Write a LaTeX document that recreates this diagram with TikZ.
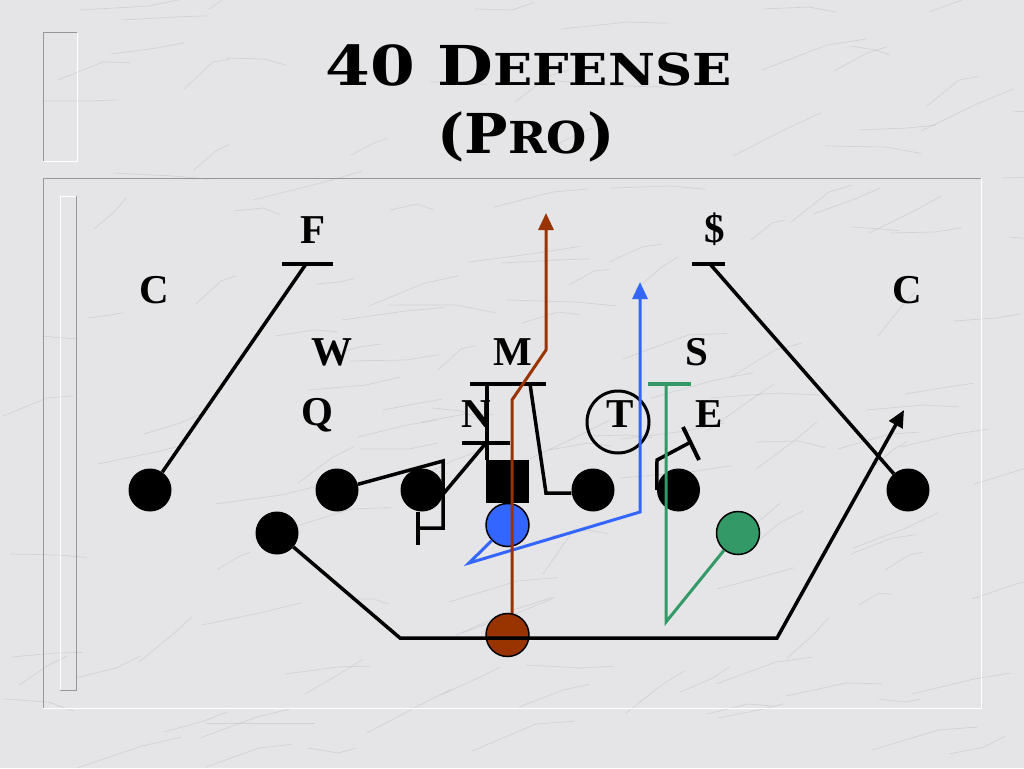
\documentclass[tikz,border=0pt]{standalone}
\usepackage{fontspec}
\usepackage{graphicx}
\setmainfont{Liberation Serif}
\newfontfamily\titlefont{DejaVu Serif}
\usetikzlibrary{arrows.meta}

\definecolor{bg}{RGB}{229,229,232}
\definecolor{vein}{RGB}{175,175,182}
\definecolor{brownline}{RGB}{153,51,0}
\definecolor{blueline}{RGB}{51,102,255}
\definecolor{greenline}{RGB}{51,153,102}
\definecolor{framegray}{RGB}{150,150,155}

\begin{document}
\begin{tikzpicture}[x=1pt,y=-1pt,
  lbl/.style={font=\fontsize{41}{41}\selectfont\bfseries, inner sep=0pt, anchor=base},
  dot/.style={circle, fill=black, minimum size=43pt, inner sep=0pt},
  cdot/.style={circle, draw=black, line width=1.5pt, minimum size=43pt, inner sep=0pt},
  route/.style={line width=3.5pt},
  bar/.style={line width=4pt},
  tipped/.style={-{Triangle[length=17pt,width=15pt]}},
  frameshade/.style={draw=framegray, line width=1pt},
  framelight/.style={draw=white, line width=1pt}
]
% background
\useasboundingbox (0,0) rectangle (1024,768);
\fill[bg] (0,0) rectangle (1024,768);
\pgfmathsetseed{7}
\foreach \i in {1,...,140}{
  \pgfmathsetmacro{\xa}{random(0,1024)}
  \pgfmathsetmacro{\ya}{random(0,768)}
  \pgfmathsetmacro{\dx}{random(20,70)}
  \pgfmathsetmacro{\dy}{random(-30,5)}
  \pgfmathsetmacro{\ex}{\dx*0.6}
  \pgfmathsetmacro{\ey}{\dy*0.4+random(0,16)-8}
  \draw[vein, opacity=0.35, line width=0.7pt] (\xa,\ya) -- ++(\dx,\dy) -- ++(\ex,\ey);
}

% frames
\draw[frameshade] (77,33) -- (43,33) -- (43,161);
\draw[framelight] (43,161) -- (77,161) -- (77,33);
\draw[frameshade] (981,178) -- (43,178) -- (43,708);
\draw[framelight] (43,708) -- (981,708) -- (981,178);
\draw[framelight] (76,196) -- (60,196) -- (60,690);
\draw[frameshade] (60,690) -- (76,690) -- (76,196);

% title
\node[inner sep=0pt, anchor=base] (t1) at (528.5,85) {\titlefont\bfseries\scalebox{1.17}[1]{\fontsize{55}{55}\selectfont 40 D\fontsize{44}{44}\selectfont EFENSE}};
\node[inner sep=0pt, anchor=base] (t2) at (526,153) {\titlefont\bfseries\scalebox{1.05}[1]{\fontsize{55}{55}\selectfont (P\fontsize{44}{44}\selectfont RO\fontsize{55}{55}\selectfont )}};

% labels
\node[lbl] (lF) at (313,243) {F};
\node[lbl] (lD) at (715,242) {\$};
\node[lbl] (lCl) at (154,303) {C};
\node[lbl] (lCr) at (907,303) {C};
\node[lbl] (lW) at (332,365) {W};
\node[lbl] (lM) at (513,365) {M};
\node[lbl] (lS) at (697,365) {S};
\node[lbl] (lQ) at (317,425) {Q};
\node[lbl] (lN) at (476,427) {N};
\node[lbl] (lT) at (620,427) {T};
\node[lbl] (lE) at (709,427) {E};

% coordinates
\coordinate (fL) at (282,264); \coordinate (fR) at (333,264); \coordinate (fm) at (306,264);
\coordinate (dL) at (692,264); \coordinate (dR) at (725,264); \coordinate (dm) at (710,264);
\coordinate (q1) at (443,461); \coordinate (q2) at (443,528); \coordinate (q3) at (418,528); \coordinate (q4) at (418,545);
\coordinate (nL) at (462,443); \coordinate (nR) at (510,443); \coordinate (nj) at (486,443);
\coordinate (mL) at (470,384); \coordinate (mR) at (546,384); \coordinate (mv) at (487,384);
\coordinate (mr) at (530,384); \coordinate (mk) at (546,493);
\coordinate (b0) at (512,614); \coordinate (b1) at (512,400); \coordinate (b2) at (546,350); \coordinate (b3) at (546,213);
\coordinate (u1) at (469,563); \coordinate (u2) at (640,512); \coordinate (u3) at (640,282);
\coordinate (gL) at (648,384); \coordinate (gR) at (691,384); \coordinate (g1) at (666,384); \coordinate (g2) at (666,622);
\coordinate (e1) at (657,460); \coordinate (e2) at (689,443); \coordinate (eb1) at (683,427); \coordinate (eb2) at (699,460);
\coordinate (k1) at (400,638); \coordinate (k2) at (777,638); \coordinate (k3) at (904,410);

% players
\node[dot] (cL) at (150,490) {};
\node[dot] (rb) at (277,533) {};
\node[dot] (lt) at (337,490) {};
\node[dot] (lg) at (422,490) {};
\node[rectangle, fill=black, minimum size=43pt, inner sep=0pt] (ce) at (507.5,481.5) {};
\node[dot] (rg) at (593,490) {};
\node[dot] (rt) at (678.5,490) {};
\node[dot] (cR) at (908,490) {};
\node[circle, draw=black, line width=3pt, minimum size=62pt, inner sep=0pt] (tc) at (618,422) {};

% black defender lines
\draw[bar] (fL) -- (fR);
\draw[route] (fm) -- (cL);
\draw[bar] (dL) -- (dR);
\draw[route] (dm) -- (cR);
\draw[route] (lt) -- (q1) -- (q2) -- (q3);
\draw[route] (q4) -- (q4 |- lg.south);
\draw[bar] (nL) -- (nR);
\draw[route] (nj) -- (lg.-10);
\draw[bar] (mL) -- (mR);
\draw[route] (mv) -- (mv |- ce.north);
\draw[route] (mr) -- (mk) -- (mk -| rg.west);
\draw[route] (rt.west) -- (e1) -- (e2);
\draw[bar] (eb1) -- (eb2);

% backs
\node[cdot, fill=blueline] (qb) at (507.5,525) {};
\node[cdot, fill=greenline] (te) at (738,533) {};

% coloured routes
\draw[route, blueline, line width=3pt, tipped] (qb) -- (u1) -- (u2) -- (u3);
\draw[bar, greenline, line width=3.5pt] (gL) -- (gR);
\draw[route, greenline, line width=3pt] (g1) -- (g2) -- (te);
\draw[route, brownline, line width=3pt, tipped] (b0) -- (b1) -- (b2) -- (b3);

\node[cdot, fill=brownline] (fb) at (507.5,635) {};

% bottom route
\draw[route, tipped] (rb) -- (k1) -- (k2) -- (k3);
\end{tikzpicture}
\end{document}
